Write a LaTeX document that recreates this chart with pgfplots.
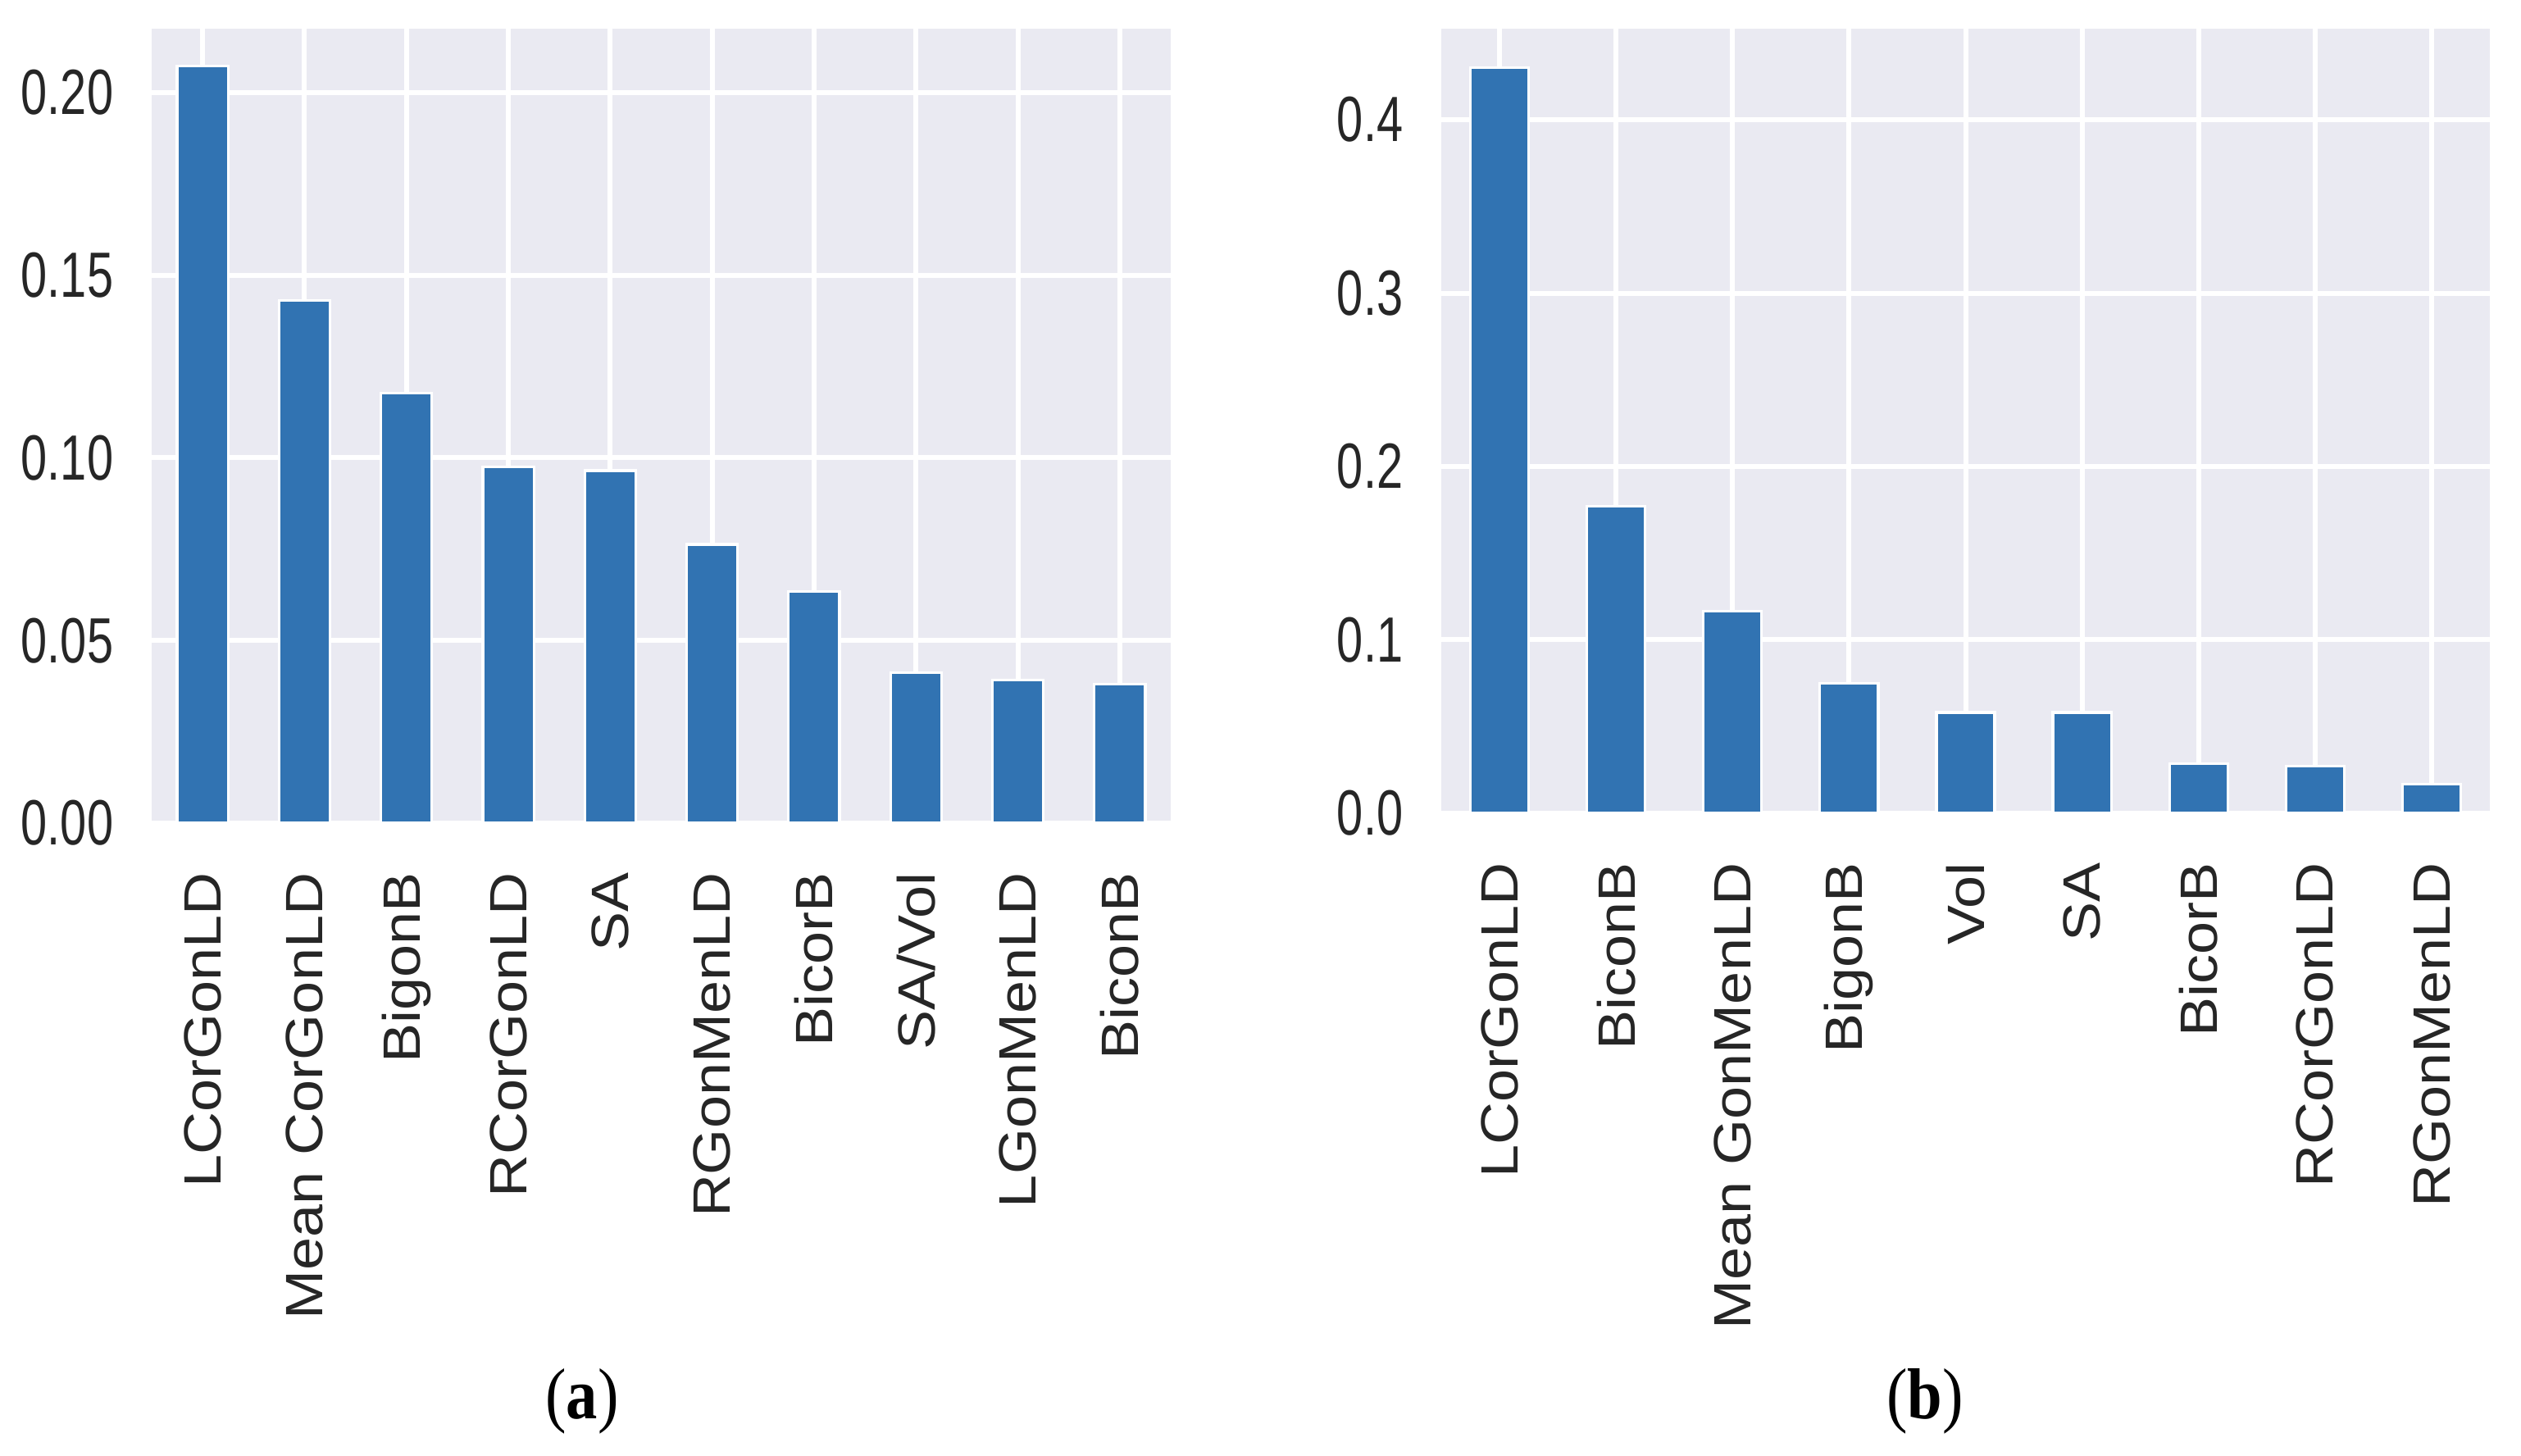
\documentclass[border=0pt]{standalone}
\usepackage{fontspec}
\setmainfont{Liberation Sans}
\newfontfamily\capfont{Liberation Serif}
\usepackage{pgfplots}
\pgfplotsset{compat=1.18}
\definecolor{bg}{HTML}{EAEAF2}
\definecolor{barblue}{HTML}{3173B2}
\definecolor{tk}{HTML}{262626}
\newcommand\sy[1]{\scalebox{0.74}[1]{#1}}
\newcommand\sx[1]{\scalebox{1}[0.89]{#1}}
\pgfplotsset{sns/.style={
  scale only axis,
  axis background/.style={fill=bg},
  axis line style={draw=none},
  major tick length=0pt,
  xmajorgrids, ymajorgrids,
  major grid style={white, line width=1.5pt},
  ybar, bar width=0.5,
  xtick=data,
  ymin=0,
  xticklabel style={font=\fontsize{18}{20}\selectfont, text=tk, inner sep=0pt, yshift=-15pt, rotate=90, anchor=east},
  yticklabel style={font=\fontsize{19.5}{22}\selectfont, text=tk, inner sep=0pt, xshift=-11.5pt, anchor=east},
}}
\begin{document}
\begin{tikzpicture}
\path[use as bounding box] (0,0) rectangle (768.75pt,444pt);
\begin{axis}[sns,
  at={(46.25pt,193pt)}, anchor=south west,
  width=310.75pt, height=242.25pt,
  xmin=-0.5, xmax=9.5, ymax=0.2175,
  ytick={0,0.05,0.10,0.15,0.20},
  yticklabels={\sy{0.00},\sy{0.05},\sy{0.10},\sy{0.15},\sy{0.20}},
  xticklabels={\sx{LCorGonLD},\sx{Mean CorGonLD},\sx{BigonB},\sx{RCorGonLD},\sx{SA},\sx{RGonMenLD},\sx{BicorB},\sx{SA/Vol},\sx{LGonMenLD},\sx{BiconB}},
]
\addplot[fill=barblue, draw=white, line width=0.8pt] coordinates {
(0,0.2073) (1,0.1431) (2,0.1177) (3,0.0975) (4,0.0965)
(5,0.0763) (6,0.0634) (7,0.0411) (8,0.0392) (9,0.0380)};
\end{axis}
\begin{axis}[sns,
  at={(439.5pt,196pt)}, anchor=south west,
  width=319.75pt, height=239.25pt,
  xmin=-0.5, xmax=8.5, ymax=0.4525,
  ytick={0,0.1,0.2,0.3,0.4},
  yticklabels={\sy{0.0},\sy{0.1},\sy{0.2},\sy{0.3},\sy{0.4}},
  xticklabels={\sx{LCorGonLD},\sx{BiconB},\sx{Mean GonMenLD},\sx{BigonB},\sx{Vol},\sx{SA},\sx{BicorB},\sx{RCorGonLD},\sx{RGonMenLD}},
]
\addplot[fill=barblue, draw=white, line width=0.8pt] coordinates {
(0,0.4302) (1,0.1772) (2,0.1167) (3,0.0748) (4,0.0582)
(5,0.0582) (6,0.0285) (7,0.0270) (8,0.0168)};
\end{axis}
\node[font=\capfont\fontsize{22}{24}\selectfont, inner sep=0pt] at (177.5pt,16.75pt) {\scalebox{0.87}[1]{(\textbf{a})}};
\node[font=\capfont\fontsize{22}{24}\selectfont, inner sep=0pt] at (587pt,16.75pt) {\scalebox{0.87}[1]{(\textbf{b})}};
\end{tikzpicture}
\end{document}
